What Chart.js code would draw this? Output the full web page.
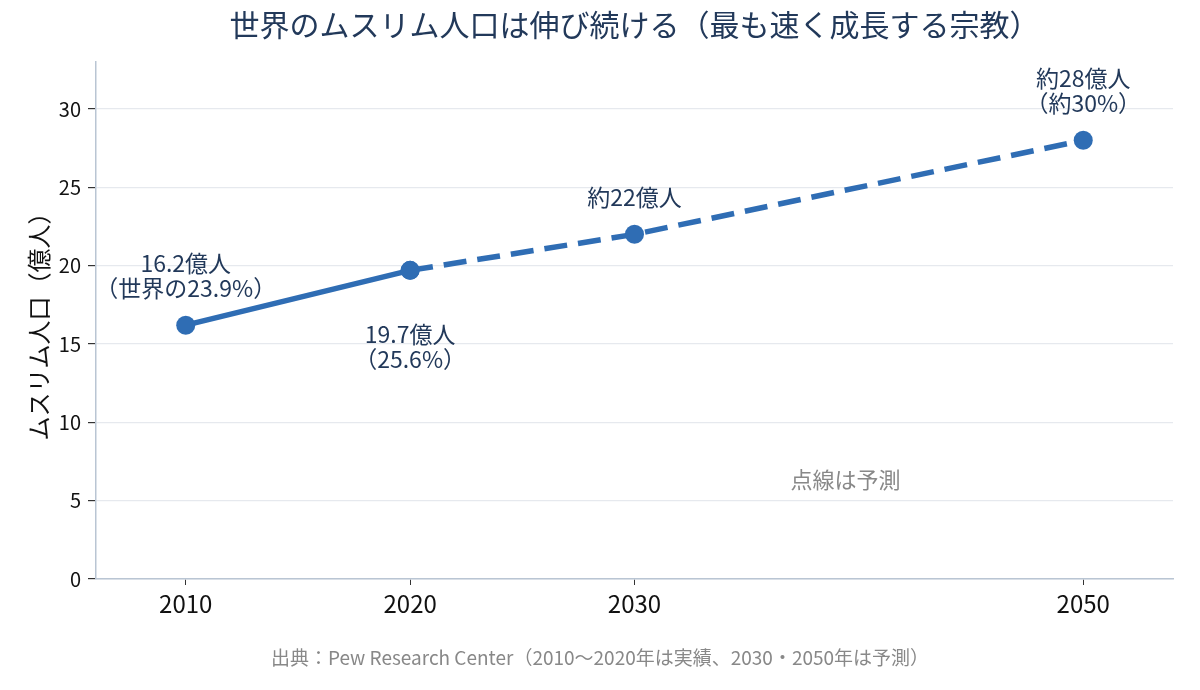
<!DOCTYPE html>
<html lang="ja">
<head>
<meta charset="utf-8">
<script src="https://cdn.jsdelivr.net/npm/chart.js@4.4.1/dist/chart.umd.min.js"></script>
<style>
  html, body { margin: 0; padding: 0; background: #fff; }
  #wrap { width: 1200px; height: 690px; }
</style>
</head>
<body>
<div id="wrap"><canvas id="chLine" width="1200" height="690"></canvas></div>
<script>
// data
const tickYears = [2010, 2020, 2030, 2050];
const actualYears = [2010, 2020];
const actualValues = [16.2, 19.7];
const projYears = [2020, 2030, 2050];
const projValues = [19.7, 22, 28];
const labelYears = [2010, 2020, 2030, 2050];
const labelValues = [16.2, 19.7, 22, 28];
const labelTexts = [
  ["16.2億人", "（世界の23.9%）"],
  ["19.7億人", "（25.6%）"],
  ["約22億人"],
  ["約28億人", "（約30%）"]
];
const labelBelow = [false, true, false, false];

const FONT = "'Noto Sans CJK JP', 'Noto Sans', sans-serif";
const blue = "#2f6db4";
const navy = "#22395a";

// point labels, note and footer
const annotate = {
  id: "annotate",
  afterDatasetsDraw(chart) {
    const ctx = chart.ctx;
    const xs = chart.scales.x, ys = chart.scales.y;
    ctx.save();
    ctx.font = "23px " + FONT;
    ctx.fillStyle = navy;
    ctx.textAlign = "center";
    ctx.textBaseline = "middle";
    labelYears.forEach(function (yr, i) {
      const px = xs.getPixelForValue(yr);
      const py = ys.getPixelForValue(labelValues[i]);
      const lines = labelTexts[i];
      lines.forEach(function (t, j) {
        let ty;
        if (labelBelow[i]) ty = py + 64 + j * 25;
        else ty = py - 37 - (lines.length - 1 - j) * 25;
        ctx.fillText(t, px, ty);
      });
    });
    // note
    ctx.font = "22px " + FONT;
    ctx.fillStyle = "#888";
    ctx.fillText("点線は予測", xs.getPixelForValue(2039.4), ys.getPixelForValue(6.35));
    // title
    const ca = chart.chartArea;
    ctx.font = "30px " + FONT;
    ctx.fillStyle = navy;
    ctx.fillText("世界のムスリム人口は伸び続ける（最も速く成長する宗教）", (ca.left + ca.right) / 2, 25);
    // footer
    ctx.font = "19px " + FONT;
    ctx.fillStyle = "#888";
    ctx.fillText("出典：Pew Research Center（2010〜2020年は実績、2030・2050年は予測）", chart.width / 2, 658);
    ctx.restore();
  }
};

const config = {
  type: "scatter",
  data: {
    datasets: [
      {
        label: "予測",
        data: projYears.map(function (y, i) { return { x: y, y: projValues[i] }; }),
        showLine: true,
        borderColor: blue,
        backgroundColor: blue,
        borderWidth: 5.5,
        borderDash: [23, 11],
        pointRadius: 9.5,
        pointHoverRadius: 9.5,
        pointBorderWidth: 0
      },
      {
        label: "実績",
        data: actualYears.map(function (y, i) { return { x: y, y: actualValues[i] }; }),
        showLine: true,
        borderColor: blue,
        backgroundColor: blue,
        borderWidth: 5.5,
        pointRadius: 9.5,
        pointHoverRadius: 9.5,
        pointBorderWidth: 0
      }
    ]
  },
  options: {
    responsive: false,
    animation: false,
    layout: { padding: { top: 62, right: 27, bottom: 60, left: 0 } },
    plugins: {
      legend: { display: false },
      tooltip: { enabled: false }
    },
    scales: {
      x: {
        type: "linear",
        min: 2006,
        max: 2054,
        afterBuildTicks: function (scale) {
          scale.ticks = tickYears.map(function (v) { return { value: v }; });
        },
        afterFit: function (scale) { scale.height = 51; },
        ticks: {
          color: "#111",
          font: { family: FONT, size: 24 },
          padding: 4,
          maxRotation: 0,
          callback: function (v) { return String(v); }
        },
        grid: {
          drawOnChartArea: false,
          tickLength: 6,
          tickColor: "#333"
        },
        border: { color: "#b9c5d3", width: 1.5 }
      },
      y: {
        min: 0,
        max: 33,
        afterBuildTicks: function (scale) {
          scale.ticks = scale.ticks.filter(function (t) { return t.value % 5 === 0; });
        },
        afterFit: function (scale) { scale.width = 96; },
        ticks: {
          stepSize: 5,
          color: "#111",
          font: { family: FONT, size: 20 },
          padding: 7
        },
        grid: {
          color: "#e6e9ee",
          lineWidth: 1.2,
          tickLength: 8,
          tickColor: "#333"
        },
        border: { color: "#b9c5d3", width: 1.5 },
        title: {
          display: true,
          text: "ムスリム人口（億人）",
          color: "#111",
          font: { family: FONT, size: 24 },
          padding: { top: 24, bottom: 0 }
        }
      }
    }
  },
  plugins: [annotate]
};

var myChart = new Chart(document.getElementById("chLine"), config);
</script>
</body>
</html>
